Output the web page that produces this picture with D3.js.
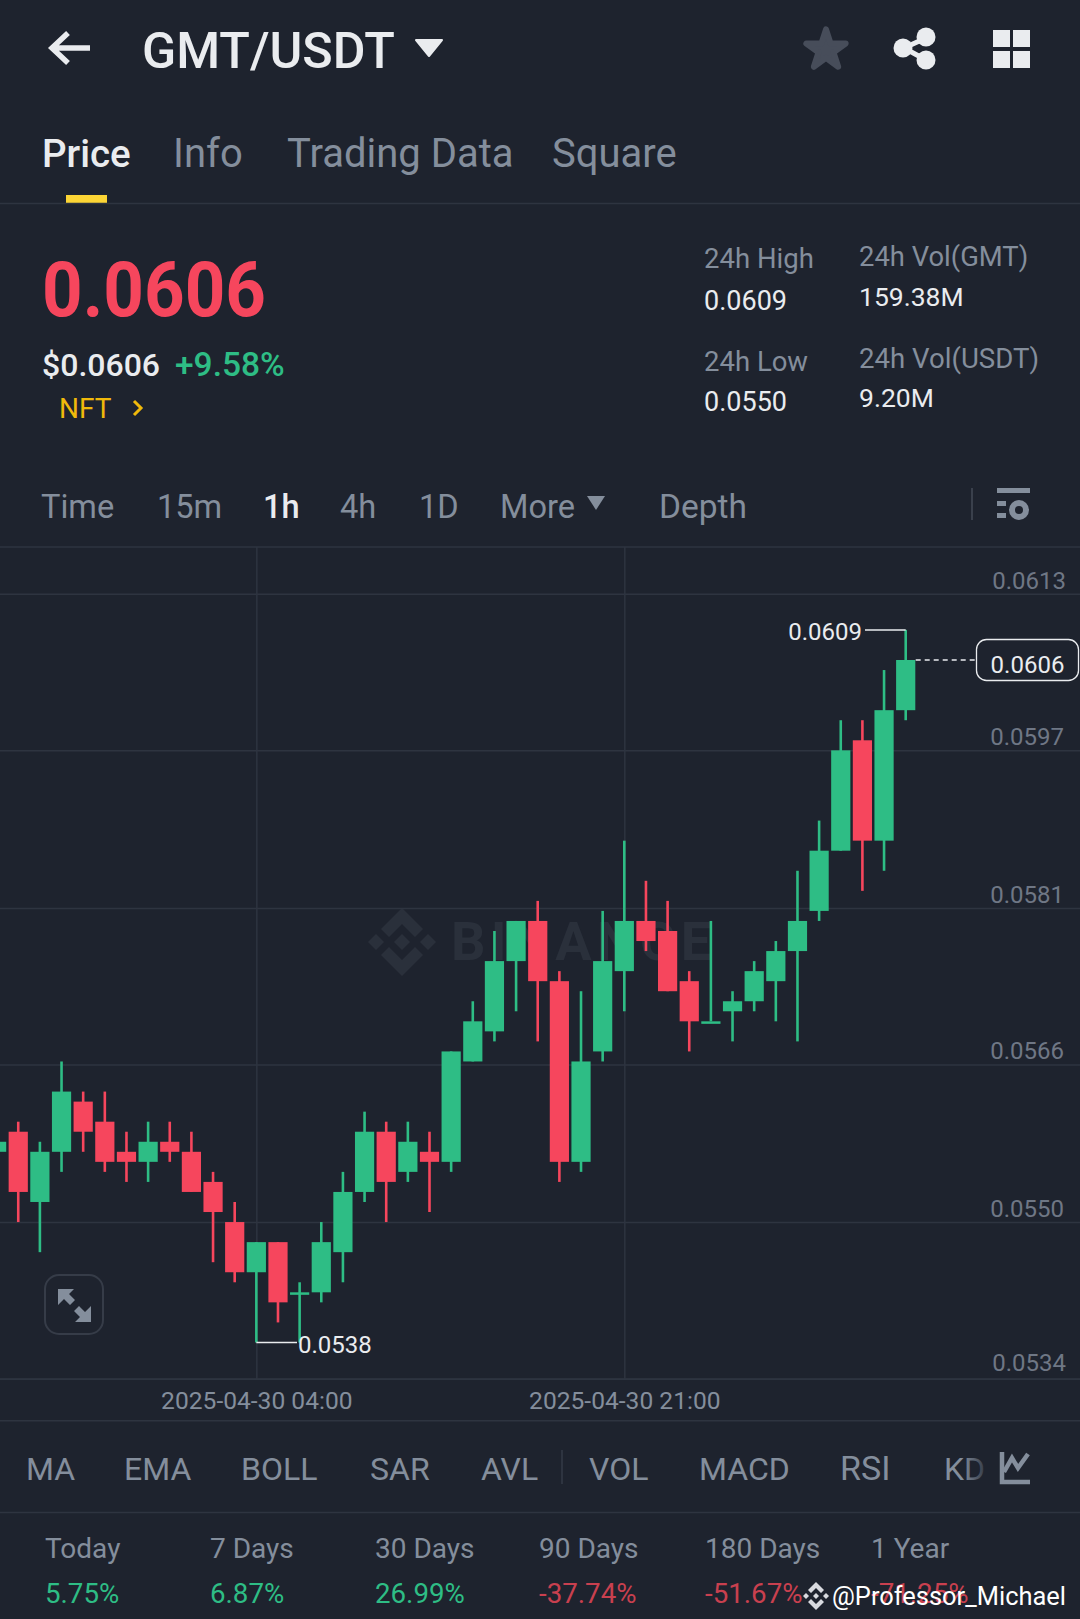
<!DOCTYPE html>
<html>
<head>
<meta charset="utf-8">
<script src="https://cdn.jsdelivr.net/npm/d3@7"></script>
<style>
html, body { margin: 0; padding: 0; background: #1e232e; }
svg { display: block; }
text { font-family: Roboto, sans-serif; }
</style>
</head>
<body>
<script>
// hourly candles, first one starts 2025-04-29 16:00
var firstHour = "2025-04-29 16:00";
var opens  = [.0557,.0559,.0552,.0557,.0562,.0560,.0557,.0556,.0558,.0557,.0554,.0550,.0545,.0548,.0543,.0543,.0547,.0553,.0559,.0555,.0557,.0556,.0566,.0569,.0576,.0580,.0574,.0556,.0567,.0575,.0580,.0579,.0574,.0570,.0571,.0572,.0574,.0577,.0581,.0587,.0598,.0588,.0601];
var closes = [.0558,.0553,.0557,.0563,.0559,.0556,.0556,.0558,.0557,.0553,.0551,.0545,.0548,.0542,.0543,.0548,.0553,.0559,.0554,.0558,.0556,.0567,.0570,.0576,.0580,.0574,.0556,.0566,.0576,.0580,.0578,.0573,.0570,.0570,.0572,.0575,.0577,.0580,.0587,.0597,.0588,.0601,.0606];
var highs  = [.0558,.0560,.0558,.0566,.0563,.0563,.0559,.0560,.0560,.0559,.0555,.0552,.0548,.0548,.0544,.0550,.0555,.0561,.0560,.0560,.0559,.0567,.0572,.0579,.0580,.0582,.0575,.0573,.0581,.0588,.0584,.0582,.0575,.0580,.0573,.0576,.0578,.0585,.0590,.0600,.0600,.0605,.0609];
var lows   = [.0557,.0550,.0547,.0555,.0557,.0555,.0554,.0554,.0556,.0553,.0546,.0544,.0538,.0540,.0538,.0542,.0544,.0552,.0550,.0554,.0551,.0555,.0566,.0568,.0571,.0568,.0554,.0555,.0566,.0571,.0577,.0573,.0567,.0570,.0568,.0571,.0570,.0568,.0580,.0587,.0583,.0585,.0600];

var priceTicks = [.05344,.05500,.05657,.05813,.05970,.06126];
var timeTicks = ["2025-04-30 04:00", "2025-04-30 21:00"];

var tabs = ["Price", "Info", "Trading Data", "Square"];
var tabX = [42, 173, 287, 552];
var frames = ["Time", "15m", "1h", "4h", "1D", "More", "Depth"];
var frameX = [41, 157, 263, 340, 419, 500, 659];
var indicators = ["MA", "EMA", "BOLL", "SAR", "AVL", "VOL", "MACD", "RSI", "KD"];
var indicatorX = [26, 124, 241, 370, 481, 589, 699, 840, 944];
var periods = ["Today", "7 Days", "30 Days", "90 Days", "180 Days", "1 Year"];
var periodValues = ["5.75%", "6.87%", "26.99%", "-37.74%", "-51.67%", "-71.25%"];
var periodX = [45, 210, 375, 539, 705, 871];

var bg = "#1e232e", up = "#2ebd85", down = "#f6465d", grey = "#848e9c", white = "#eaecef", line = "#2e3440";

var parseTime = d3.timeParse("%Y-%m-%d %H:%M");
var start = parseTime(firstHour);
var times = opens.map(function(d, i) { return d3.timeHour.offset(start, i); });

var svg = d3.select("body").append("svg").attr("width", 1080).attr("height", 1619);
svg.append("rect").attr("width", 1080).attr("height", 1619).attr("fill", bg);

var fade = svg.append("defs").append("linearGradient").attr("id", "fade");
fade.append("stop").attr("offset", 0).attr("stop-color", bg).attr("stop-opacity", 0);
fade.append("stop").attr("offset", 1).attr("stop-color", bg).attr("stop-opacity", 1);

var x = d3.scaleTime().domain([times[0], times[times.length - 1]]).range([-3.4, 905.7]);
var y = d3.scaleLinear().domain([.0538, .0606]).range([1342.5, 660]);

function label(t, px, py, size, color, weight, anchor) {
  return svg.append("text").text(t).attr("x", px).attr("y", py)
    .attr("font-size", size).attr("fill", color)
    .attr("font-weight", weight || 400).attr("text-anchor", anchor || "start");
}
function hline(py) {
  svg.append("line").attr("x1", 0).attr("x2", 1080).attr("y1", py).attr("y2", py)
    .attr("stroke", line).attr("stroke-width", 1.5);
}

// header
svg.append("path").attr("d", "M90 48H54M68 33L52 48L68 63").attr("fill", "none")
  .attr("stroke", white).attr("stroke-width", 5.5);
label("GMT/USDT", 142, 68, 50.2, white, 500);
svg.append("path").attr("d", "M416 40H442L429 56Z").attr("fill", white).attr("stroke", white).attr("stroke-linejoin", "round").attr("stroke-width", 2);
svg.append("path").attr("d", d3.symbol().type(d3.symbolStar).size(480)).attr("transform", "translate(826,50)")
  .attr("fill", "#474d5a").attr("stroke", "#474d5a").attr("stroke-width", 6).attr("stroke-linejoin", "round");
svg.append("path").attr("d", "M926 38L904 48L926 60").attr("fill", "none").attr("stroke", white).attr("stroke-width", 5);
[[926, 37, 9.5], [903, 48, 9.5], [926, 60, 9.5]].forEach(function(c) {
  svg.append("circle").attr("cx", c[0]).attr("cy", c[1]).attr("r", c[2]).attr("fill", white);
});
[[993, 30], [1013, 30], [993, 51], [1013, 51]].forEach(function(c) {
  svg.append("rect").attr("x", c[0]).attr("y", c[1]).attr("width", 17).attr("height", 17).attr("fill", white);
});

// tabs
tabs.forEach(function(t, i) {
  label(t, tabX[i], 167, i == 0 ? 38.5 : 40, i == 0 ? white : grey, i == 0 ? 500 : 400);
});
svg.append("rect").attr("x", 66).attr("y", 195).attr("width", 41).attr("height", 8).attr("fill", "#fcd535");
hline(203.5);

// price block
label("0.0606", 42, 316, 76, down, 700).attr("textLength", 224).attr("lengthAdjust", "spacingAndGlyphs");
label("$0.0606", 42, 376, 32, white, 500);
label("+9.58%", 175, 376, 33.5, up, 500);
label("NFT", 59, 418, 28, "#f0b90b");
svg.append("path").attr("d", "M134 401L141 408L134 415").attr("fill", "none").attr("stroke", "#f0b90b").attr("stroke-width", 3);
label("24h High", 704, 268, 27.5, grey);
label("0.0609", 704, 310, 27, white);
label("24h Low", 704, 371, 27.5, grey);
label("0.0550", 704, 411, 27, white);
label("24h Vol(GMT)", 859, 266, 27.4, grey);
label("159.38M", 859, 306, 26.5, white);
label("24h Vol(USDT)", 859, 368, 27.6, grey);
label("9.20M", 859, 407, 26.5, white);

// time frames
frames.forEach(function(t, i) {
  label(t, frameX[i], 518, t == "Depth" ? 33.5 : 32.6, t == "1h" ? white : grey, t == "1h" ? 500 : 400);
});
svg.append("path").attr("d", "M587 496H605L596 510Z").attr("fill", grey);
svg.append("line").attr("x1", 972).attr("x2", 972).attr("y1", 488).attr("y2", 520).attr("stroke", "#3a404c").attr("stroke-width", 2);
svg.append("rect").attr("x", 997).attr("y", 488).attr("width", 33).attr("height", 5).attr("fill", grey);
svg.append("rect").attr("x", 997).attr("y", 501).attr("width", 9).attr("height", 5).attr("fill", grey);
svg.append("rect").attr("x", 997).attr("y", 513).attr("width", 9).attr("height", 5).attr("fill", grey);
svg.append("circle").attr("cx", 1019).attr("cy", 510).attr("r", 7).attr("fill", "none").attr("stroke", grey).attr("stroke-width", 6);
hline(547);

// watermark sits under the candles
var mark = svg.append("g").attr("fill", "#2a303b").attr("transform", "translate(402,942)");
mark.append("path").attr("d", "M0 -34L21 -13L13 -5L0 -18L-13 -5L-21 -13Z");
mark.append("path").attr("d", "M0 34L21 13L13 5L0 18L-13 5L-21 13Z");
mark.append("path").attr("d", "M-34 0L-26 -8L-18 0L-26 8Z");
mark.append("path").attr("d", "M34 0L26 -8L18 0L26 8Z");
mark.append("path").attr("d", "M0 -8L8 0L0 8L-8 0Z");
label("BINANCE", 451, 960, 54, "#2a303b", 700).attr("textLength", 260);

// axes, the tick lines double as grid lines
var yAxis = svg.append("g")
  .call(d3.axisRight(y).tickValues(priceTicks).tickSize(1080).tickFormat(d3.format(".4f")));
yAxis.select(".domain").remove();
yAxis.selectAll("line").attr("stroke", line).attr("stroke-width", 1.5);
yAxis.selectAll("text")
  .attr("x", function(d) { return d == priceTicks[0] || d == priceTicks[5] ? 1066 : 1064; })
  .attr("dy", function(d) { return d == priceTicks[0] ? -8 : -5.5; })
  .attr("text-anchor", "end")
  .attr("font-family", "Roboto, sans-serif").attr("font-size", 24).attr("fill", "#6f7785");

var xAxis = svg.append("g").attr("transform", "translate(0,1379)")
  .call(d3.axisBottom(x).tickValues(timeTicks.map(parseTime)).tickSizeInner(-832).tickSizeOuter(0)
    .tickPadding(13).tickFormat(d3.timeFormat("%Y-%m-%d %H:%M")));
xAxis.select(".domain").attr("stroke", line).attr("stroke-width", 1.5).attr("d", "M0 0H1080");
xAxis.selectAll("line").attr("stroke", line).attr("stroke-width", 1.5);
xAxis.selectAll("text").attr("font-family", "Roboto, sans-serif").attr("font-size", 24.6).attr("fill", grey);

// candles
var candles = svg.append("g").selectAll("g").data(times).join("g");
candles.append("line")
  .attr("x1", function(d) { return x(d); })
  .attr("x2", function(d) { return x(d); })
  .attr("y1", function(d, i) { return y(highs[i]); })
  .attr("y2", function(d, i) { return y(lows[i]); })
  .attr("stroke", function(d, i) { return closes[i] >= opens[i] ? up : down; })
  .attr("stroke-width", 2.6);
candles.append("rect")
  .attr("x", function(d) { return x(d) - 9.6; })
  .attr("width", 19.2)
  .attr("y", function(d, i) { return y(Math.max(opens[i], closes[i])); })
  .attr("height", function(d, i) { return Math.max(2.5, Math.abs(y(opens[i]) - y(closes[i]))); })
  .attr("fill", function(d, i) { return closes[i] >= opens[i] ? up : down; });

// high, low and last price labels
var hi = d3.max(highs), lo = d3.min(lows), last = closes[closes.length - 1];
var hiX = x(times[highs.indexOf(hi)]), loX = x(times[lows.indexOf(lo)]);
svg.append("path").attr("d", "M865 " + y(hi) + "H" + hiX).attr("fill", "none").attr("stroke", white).attr("stroke-width", 1.5);
label(d3.format(".4f")(hi), 862, 640, 24, white, 400, "end");
svg.append("path").attr("d", "M" + loX + " " + y(lo) + "H297").attr("fill", "none").attr("stroke", white).attr("stroke-width", 1.5);
label(d3.format(".4f")(lo), 298, 1353, 24, white);
svg.append("line").attr("x1", x(times[times.length - 1]) + 10).attr("x2", 976).attr("y1", y(last)).attr("y2", y(last))
  .attr("stroke", white).attr("stroke-width", 1.3).attr("stroke-dasharray", "5 4");
svg.append("rect").attr("x", 976.5).attr("y", 639.5).attr("width", 102).attr("height", 41).attr("rx", 10)
  .attr("fill", bg).attr("stroke", white).attr("stroke-width", 1.3);
label(d3.format(".4f")(last), 1027.5, 673, 24, white, 400, "middle");

// expand button
svg.append("rect").attr("x", 45).attr("y", 1275).attr("width", 58).attr("height", 59).attr("rx", 14)
  .attr("fill", "none").attr("stroke", "#363c48").attr("stroke-width", 2);
svg.append("path").attr("d", "M58 1289H74L69 1294L75 1300L70 1305L64 1299L58 1305Z M91 1322H75L80 1317L74 1311L79 1306L85 1312L91 1306Z").attr("fill", grey);

hline(1420.7);

// indicators, the row scrolls away under the icon
indicators.forEach(function(t, i) {
  label(t, indicatorX[i], 1479.5, t == "RSI" ? 34 : 32, grey);
});
svg.append("rect").attr("x", 962).attr("y", 1450).attr("width", 30).attr("height", 40).attr("fill", "url(#fade)");
svg.append("rect").attr("x", 992).attr("y", 1450).attr("width", 45).attr("height", 40).attr("fill", bg);
svg.append("line").attr("x1", 562).attr("x2", 562).attr("y1", 1450).attr("y2", 1484).attr("stroke", "#2e3440").attr("stroke-width", 2);
svg.append("path").attr("d", "M1002 1452V1482H1030").attr("fill", "none").attr("stroke", grey).attr("stroke-width", 4.5);
svg.append("path").attr("d", "M1004 1472L1012 1458L1018 1468L1028 1454").attr("fill", "none").attr("stroke", grey).attr("stroke-width", 4.5);
hline(1512.5);

// period changes
periods.forEach(function(t, i) {
  label(t, periodX[i], 1558, 28, grey);
  label(periodValues[i], periodX[i], 1603, 27.7, periodValues[i][0] == "-" ? "#c9404f" : up);
});

// reposter tag over the last row
var tag = svg.append("g").attr("fill", "#d9dbe0").attr("transform", "translate(816,1596)");
tag.append("path").attr("d", "M0 -14L8 -6L5 -3L0 -8L-5 -3L-8 -6Z");
tag.append("path").attr("d", "M0 14L8 6L5 3L0 8L-5 3L-8 6Z");
tag.append("path").attr("d", "M-13 0L-10 -3L-7 0L-10 3Z");
tag.append("path").attr("d", "M13 0L10 -3L7 0L10 3Z");
tag.append("path").attr("d", "M0 -3L3 0L0 3L-3 0Z");
label("@Professor_Michael", 832, 1605, 26, "#ffffff").attr("textLength", 234).attr("lengthAdjust", "spacingAndGlyphs");
</script>
</body>
</html>
